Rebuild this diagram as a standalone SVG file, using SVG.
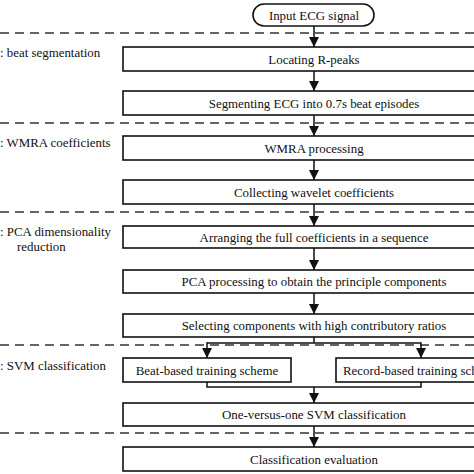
<svg xmlns="http://www.w3.org/2000/svg" width="474" height="474" viewBox="0 0 474 474">
<defs>
<style>
.box{fill:#fff;stroke:#111;stroke-width:1.6}
.dash{stroke:#333;stroke-width:1.5;stroke-dasharray:9 6;fill:none}
.ln{stroke:#111;stroke-width:1.5;fill:none}
.t{font-family:"Liberation Serif","DejaVu Serif",serif;font-size:12.9px;fill:#111}
.c{text-anchor:middle}
</style>
<marker id="ah" markerWidth="10" markerHeight="10" refX="10" refY="5" orient="auto" markerUnits="userSpaceOnUse" viewBox="0 0 10 10">
<path d="M0,0 L10,5 L0,10 Z" fill="#111"/>
</marker>
</defs>
<rect width="474" height="474" fill="#fff"/>
<g id="separators">
<line class="dash" x1="0" y1="33" x2="474" y2="33"/>
<line class="dash" x1="0" y1="123" x2="474" y2="123"/>
<line class="dash" x1="0" y1="212" x2="474" y2="212"/>
<line class="dash" x1="0" y1="345" x2="474" y2="345"/>
<line class="dash" x1="0" y1="433" x2="474" y2="433"/>
</g>
<g id="stage-labels" class="t" font-family="Liberation Serif, DejaVu Serif, serif">
<text x="0" y="57">: beat segmentation</text>
<text x="0" y="147">: WMRA coefficients</text>
<text x="0" y="236">: PCA dimensionality</text>
<text x="17" y="251">reduction</text>
<text x="0" y="370">: SVM classification</text>
</g>
<g id="connectors">
<line class="ln" x1="314" y1="26" x2="314" y2="47" marker-end="url(#ah)"/>
<line class="ln" x1="314" y1="71" x2="314" y2="91" marker-end="url(#ah)"/>
<line class="ln" x1="314" y1="115" x2="314" y2="136" marker-end="url(#ah)"/>
<line class="ln" x1="314" y1="160" x2="314" y2="180" marker-end="url(#ah)"/>
<line class="ln" x1="314" y1="204" x2="314" y2="226" marker-end="url(#ah)"/>
<line class="ln" x1="314" y1="248" x2="314" y2="270" marker-end="url(#ah)"/>
<line class="ln" x1="314" y1="293" x2="314" y2="314" marker-end="url(#ah)"/>
<polyline class="ln" points="314,337 314,343"/>
<polyline class="ln" points="207,343 421,343"/>
<line class="ln" x1="207" y1="342.25" x2="207" y2="358" marker-end="url(#ah)"/>
<line class="ln" x1="421" y1="342.25" x2="421" y2="358" marker-end="url(#ah)"/>
<polyline class="ln" points="207,382 207,387 421,387 421,382"/>
<line class="ln" x1="314" y1="387" x2="314" y2="403" marker-end="url(#ah)"/>
<line class="ln" x1="314" y1="426" x2="314" y2="447" marker-end="url(#ah)"/>
</g>
<g class="t" font-family="Liberation Serif, DejaVu Serif, serif">
<g id="input-ecg">
<rect class="box" x="253" y="4" width="121" height="22" rx="11"/>
<text class="c" x="314" y="19.5">Input ECG signal</text>
</g>
<g id="locating">
<rect class="box" x="123" y="47" width="390" height="24"/>
<text class="c" x="314" y="63.5">Locating R-peaks</text>
</g>
<g id="segmenting">
<rect class="box" x="123" y="91" width="390" height="24"/>
<text class="c" x="314" y="107.5">Segmenting ECG into 0.7s beat episodes</text>
</g>
<g id="wmra">
<rect class="box" x="123" y="136" width="390" height="24"/>
<text class="c" x="314" y="152.5">WMRA processing</text>
</g>
<g id="collecting">
<rect class="box" x="123" y="180" width="390" height="24"/>
<text class="c" x="314" y="196.5">Collecting wavelet coefficients</text>
</g>
<g id="arranging">
<rect class="box" x="123" y="226" width="390" height="22"/>
<text class="c" x="314" y="241.5">Arranging the full coefficients in a sequence</text>
</g>
<g id="pca">
<rect class="box" x="123" y="270" width="390" height="23"/>
<text class="c" x="314" y="285.5">PCA processing to obtain the principle components</text>
</g>
<g id="selecting">
<rect class="box" x="123" y="314" width="390" height="23"/>
<text class="c" x="314" y="329.5">Selecting components with high contributory ratios</text>
</g>
<g id="beat-based">
<rect class="box" x="123" y="358" width="168" height="24"/>
<text class="c" x="207" y="374.5">Beat-based training scheme</text>
</g>
<g id="record-based">
<rect class="box" x="336" y="358" width="170" height="24"/>
<text x="343" y="374.5">Record-based training scheme</text>
</g>
<g id="ovo-svm">
<rect class="box" x="123" y="403" width="390" height="23"/>
<text class="c" x="314" y="419">One-versus-one SVM classification</text>
</g>
<g id="evaluation">
<rect class="box" x="123" y="447" width="390" height="24"/>
<text class="c" x="314" y="463.5">Classification evaluation</text>
</g>
</g>
</svg>
